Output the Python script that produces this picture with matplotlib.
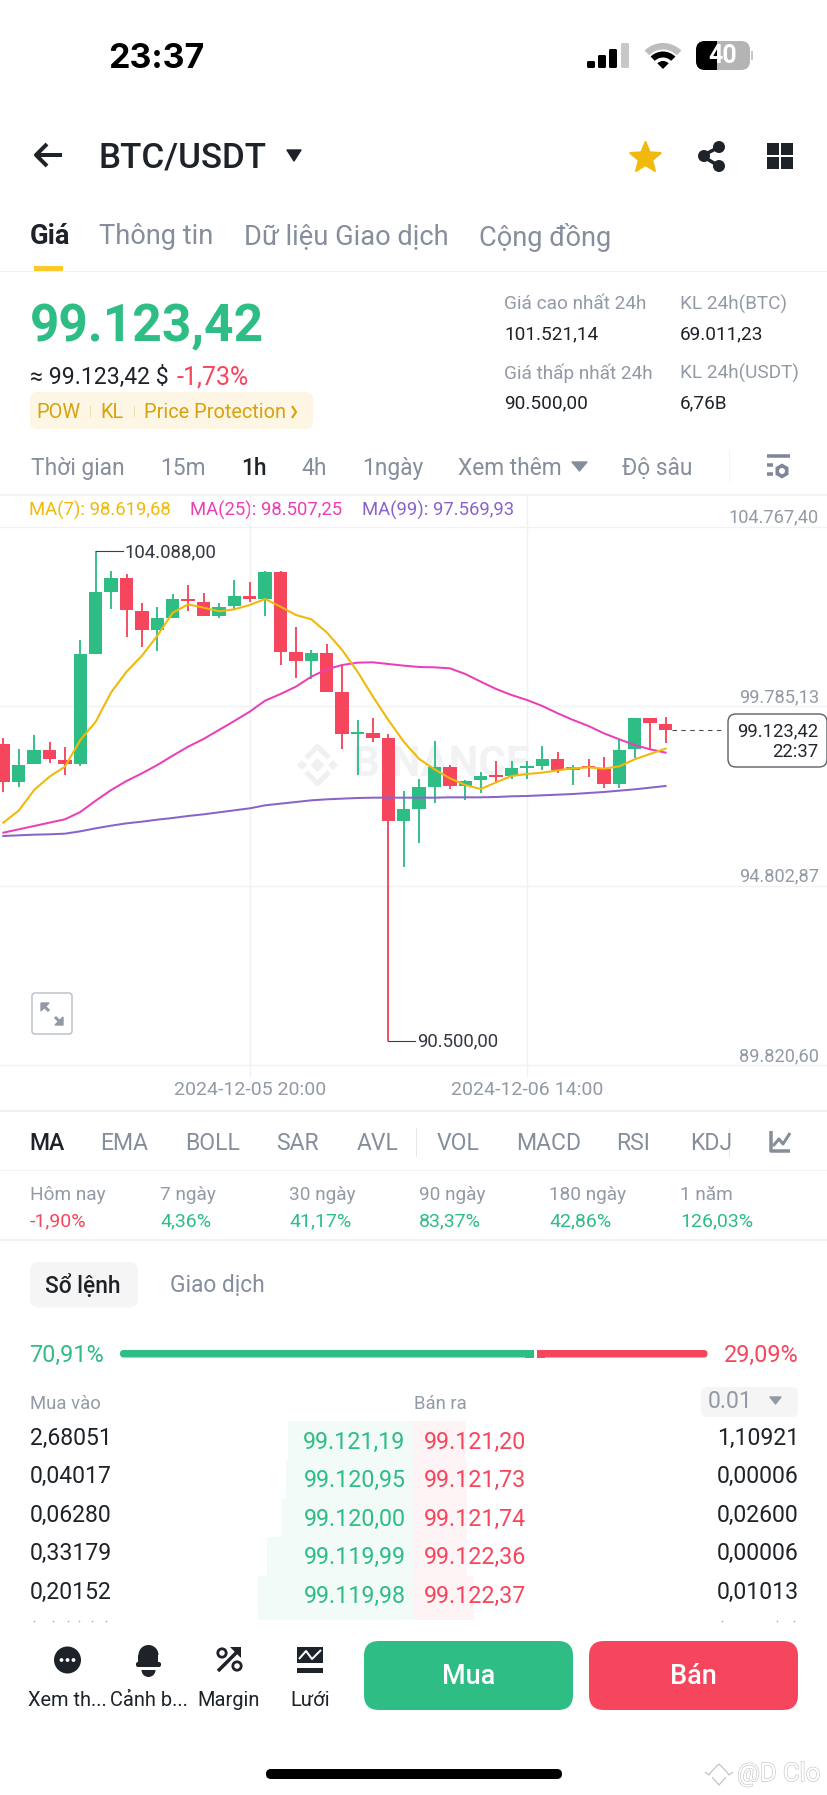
import matplotlib
matplotlib.use("Agg")
import matplotlib.pyplot as plt
import matplotlib.patheffects as pe
from matplotlib.patches import FancyBboxPatch, Rectangle, Wedge, Circle, Polygon, RegularPolygon
import numpy as np

plt.rcParams['font.family'] = ['Roboto', 'Noto Sans', 'DejaVu Sans']

# ---------- chart data ----------
opens = [98735,97690,98180,98569,98282,98180,101243,102964,103334,102436,101909,102233,102751,102686,102279,102566,102834,102760,103501,101280,101039,101271,100169,99022,99050,98893,96589,96940,97551,98106,97579,97727,97865,97856,98078,98134,98319,98004,98115,98041,97634,98587,99466,99281]
highs = [98893,98587,98985,98800,98643,101613,104088,103538,103445,102658,102547,102890,103158,102918,102658,103288,103241,103538,103538,101992,101345,101511,100900,99401,99466,99022,97440,97754,98818,98143,97736,97949,98254,98263,98272,98689,98522,98162,98310,98365,98865,99466,99466,99494]
lows = [97412,97551,98180,98199,97875,98134,101243,102483,101705,101419,101317,102233,102436,102279,102242,102483,102686,102288,100928,100567,100530,100179,98596,97875,98800,90500,95330,95978,97107,97477,97190,97366,97643,97754,97754,98013,97921,97606,97810,97504,97504,98337,98569,98754]
closes = [97690,98152,98569,98310,98180,101243,102955,103334,102455,101909,102224,102751,102695,102279,102547,102834,102751,103501,101298,101039,101271,100179,99022,99068,98902,96589,96922,97532,98097,97579,97708,97856,97810,98060,98134,98319,98004,98097,98069,97634,98569,99466,99318,99123]
ma7 = [96552,96885,97458,97828,98106,98846,99355,100169,100743,101187,101742,102381,102612,102520,102418,102473,102594,102760,102547,102316,102196,101835,101345,100743,100049,99401,98800,98319,98032,97782,97597,97486,97671,97847,97902,97939,98004,98060,98088,98050,98115,98310,98458,98606]
ma25 = [96274,96366,96459,96552,96644,96848,97162,97458,97708,97921,98152,98411,98661,98874,99124,99374,99633,99938,100123,100327,100604,100808,100928,100993,101002,100956,100910,100873,100863,100836,100678,100466,100262,100095,99957,99790,99586,99401,99235,99031,98865,98707,98587,98495]
ma99 = [96181,96200,96218,96228,96246,96311,96394,96468,96533,96579,96635,96681,96737,96783,96838,96894,96949,97033,97079,97125,97171,97199,97218,97236,97245,97245,97245,97245,97245,97255,97255,97255,97264,97283,97292,97310,97329,97347,97375,97403,97440,97477,97523,97570]
price_ticks = [104767.40, 99785.13, 94802.87, 89820.60]
price_tick_labels = ["104.767,40", "99.785,13", "94.802,87", "89.820,60"]
date_tick_idx = [16, 34]
date_tick_labels = ["2024-12-05 20:00", "2024-12-06 14:00"]
ma_labels = ["MA(7): 98.619,68", "MA(25): 98.507,25", "MA(99): 97.569,93"]
high_label = "104.088,00"
low_label = "90.500,00"
current_label = ["99.123,42", "22:37"]

# ---------- page text ----------
tabs = ["Giá", "Thông tin", "Dữ liệu Giao dịch", "Cộng đồng"]
intervals = ["Thời gian", "15m", "1h", "4h", "1ngày", "Xem thêm", "Độ sâu"]
indicators = ["MA", "EMA", "BOLL", "SAR", "AVL", "VOL", "MACD", "RSI", "KDJ"]
period_names = ["Hôm nay", "7 ngày", "30 ngày", "90 ngày", "180 ngày", "1 năm"]
period_values = ["-1,90%", "4,36%", "41,17%", "83,37%", "42,86%", "126,03%"]
buy_qty = ["2,68051", "0,04017", "0,06280", "0,33179", "0,20152"]
buy_price = ["99.121,19", "99.120,95", "99.120,00", "99.119,99", "99.119,98"]
sell_price = ["99.121,20", "99.121,73", "99.121,74", "99.122,36", "99.122,37"]
sell_qty = ["1,10921", "0,00006", "0,02600", "0,00006", "0,01013"]
tool_labels = ["Xem th...", "Cảnh b...", "Margin", "Lưới"]

GREEN = "#2ebd85"; RED = "#f6465d"; DARK = "#1e2329"; GREY = "#858e9c"; LGREY = "#929aa5"
YEL = "#f0b90b"; MAG = "#ea3fb6"; PUR = "#8a63c9"; LINE = "#f0f1f3"

fig = plt.figure(figsize=(8.28, 17.95), dpi=100, facecolor="white")
ov = fig.add_axes([0, 0, 1, 1], zorder=0)
ov.set_xlim(0, 828); ov.set_ylim(1795, 0); ov.axis("off")

def T(x, y, s, px, color=DARK, ha="left", va="center", weight="normal", **kw):
    return ov.text(x, y, s, fontsize=px * 0.72, color=color, ha=ha, va=va, fontweight=weight, **kw)
def RR(x0, y0, x1, y1, r, fc, ec="none", lw=0, z=1):
    p = FancyBboxPatch((x0 + r, y0 + r), x1 - x0 - 2 * r, y1 - y0 - 2 * r,
                       boxstyle=f"round,pad={r},rounding_size={r}", fc=fc, ec=ec, lw=lw, zorder=z)
    ov.add_patch(p); return p
def R(x0, y0, x1, y1, fc, z=1):
    ov.add_patch(Rectangle((x0, y0), x1 - x0, y1 - y0, fc=fc, ec="none", zorder=z))
def L(xs, ys, c=DARK, lw=2, z=2, **kw):
    ov.plot(xs, ys, color=c, lw=lw * 0.72, zorder=z, solid_capstyle=kw.pop("cap", "butt"), **kw)

# ---------- status bar ----------
T(108, 59, "23:37", 34, "#000000", weight="bold", family=["Inter", "Roboto"])
for x0, top, c in [(587, 61, "#000"), (598, 55, "#000"), (609, 49, "#000"), (621, 43, "#c8c8c8")]:
    RR(x0, top, x0 + 8, 68, 1.5, c)
cw = (663, 69)
ov.add_patch(Wedge(cw, 26, 225, 315, width=6.5, fc="#bdbdbd", ec="none"))
ov.add_patch(Wedge(cw, 17.5, 225, 315, width=6, fc="#000", ec="none"))
ov.add_patch(Wedge(cw, 8, 225, 315, fc="#000", ec="none"))
RR(696, 41, 750, 70, 9, "#b4b4b4")
blk = RR(696, 41, 750, 70, 9, "#000", z=2)
blk.set_clip_path(Rectangle((696, 41), 21, 29, transform=ov.transData))
R(751, 51, 753.5, 60, "#c8c8c8")
T(723, 56, "40", 25, "white", ha="center", weight="bold", zorder=3)

# ---------- nav ----------
L([36, 62], [155, 155], DARK, 4)
L([47, 36, 47], [144, 155, 166], DARK, 4)
T(99, 158, "BTC/USDT", 35, DARK, weight="medium")
ov.add_patch(Polygon([(287, 150), (301, 150), (294, 161)], fc=DARK, ec=DARK, lw=1, joinstyle="round"))
ang = np.arange(10) * np.pi / 5 - np.pi / 2
rad = np.where(np.arange(10) % 2 == 0, 16, 7)
ov.add_patch(Polygon(np.c_[645.5 + rad * np.cos(ang), 158 + rad * np.sin(ang)], fc="#f0b90b", ec="#f0b90b", lw=1.5, joinstyle="round"))
for (a, b) in [((702, 156), (719, 147)), ((702, 156), (719, 166))]:
    L([a[0], b[0]], [a[1], b[1]], DARK, 3.5)
for c in [(704, 156), (719, 147), (719, 166)]:
    ov.add_patch(Circle(c, 6, fc=DARK, ec="none", zorder=3))
for x0, y0 in [(767, 143), (781, 143), (767, 157), (781, 157)]:
    R(x0, y0, x0 + 12, y0 + 12, DARK)

# ---------- tabs ----------
for x, s, i in zip([29.5, 99, 244, 479], tabs, range(4)):
    T(x, 237, s, 27.3, DARK if i == 0 else GREY, weight="bold" if i == 0 else "normal")
R(34, 266, 63, 271, "#fcc92b", z=2)
R(0, 270.5, 828, 272, "#eff0f2")

# ---------- price block ----------
T(29.5, 327, "99.123,42", 51.5, GREEN, weight="bold")
T(30, 377, "≈ 99.123,42 $", 23, DARK)
T(176.5, 377, "-1,73%", 25, RED)
RR(30, 392, 313, 429, 7, "#fdf6e4")
tag = "#d8a20c"
T(36, 412, "POW", 20, tag); T(100, 412, "KL", 20, tag); T(144, 412, "Price Protection", 20, tag)
R(90, 406, 91, 417, "#ecdcae"); R(134, 406, 135, 417, "#ecdcae")
L([292, 296, 292], [406, 412, 418], tag, 2.2)
for x, y, s, c in [(504.5, 304, "Giá cao nhất 24h", LGREY), (680, 304, "KL 24h(BTC)", LGREY),
                   (504.5, 334, "101.521,14", DARK), (680, 334, "69.011,23", DARK),
                   (504.5, 373, "Giá thấp nhất 24h", LGREY), (680, 373, "KL 24h(USDT)", LGREY),
                   (504.5, 403, "90.500,00", DARK), (680, 403, "6,76B", DARK)]:
    T(x, y, s, 19, c)

# ---------- interval row ----------
for x, s in zip([31, 160, 241, 301, 362, 458, 622], intervals):
    T(x, 468.5, s, 22.8, DARK if s == "1h" else GREY, weight="medium" if s == "1h" else "normal")
ov.add_patch(Polygon([(572, 462), (587, 462), (579.5, 471)], fc=GREY, ec=GREY, lw=1, joinstyle="round"))
R(729.5, 450, 730.5, 482, "#f3f4f6")
ic = "#7d8798"
L([767, 790], [456, 456], ic, 3.5); L([767, 773], [465, 465], ic, 3.5); L([767, 773], [474, 474], ic, 3.5)
ov.add_patch(RegularPolygon((782, 471), 6, radius=7.5, fc=ic, ec="none", zorder=2))
ov.add_patch(Circle((782, 471), 3, fc="white", ec="none", zorder=3))

# ---------- chart frame, legend, watermark ----------
R(0, 494, 828, 495.5, "#f2f3f5")
for x, s, c in zip([29, 190, 362], ma_labels, [YEL, MAG, PUR]):
    T(x, 510.5, s, 18.5, c)
T(352, 765, "BINANCE", 42, "#f1f2f4", weight="bold")
wm = "#eff0f2"
ov.add_patch(Polygon([(317.5, 758), (324.5, 765), (317.5, 772), (310.5, 765)], fc=wm, ec="none"))
ov.add_patch(Polygon([(302, 760), (307, 765), (302, 770), (297, 765)], fc=wm, ec="none"))
ov.add_patch(Polygon([(333, 760), (338, 765), (333, 770), (328, 765)], fc=wm, ec="none"))
L([306, 317.5, 329], [758, 746.5, 758], wm, 5)
L([306, 317.5, 329], [772, 783.5, 772], wm, 5)

# ---------- candlestick chart (price & index scales) ----------
SP = 15.4
top_px, bot_px = 494, 1077
ax = fig.add_axes([0, 1 - bot_px / 1795, 1, (bot_px - top_px) / 1795], zorder=1)
ax.patch.set_alpha(0)
ax.set_xlim(-3.33 / SP, (828 - 3.33) / SP)
ax.set_ylim(89491, 105675)
for s in ax.spines.values():
    s.set_visible(False)
idx = np.arange(len(opens))
colors = [GREEN if c >= o else RED for o, c in zip(opens, closes)]
ax.vlines(idx, lows, highs, colors=colors, lw=1.35, zorder=3)
ax.bar(idx, [max(abs(c - o), 45) for o, c in zip(opens, closes)],
       bottom=[min(o, c) for o, c in zip(opens, closes)], width=0.865, color=colors, lw=0, zorder=3)
ax.plot(idx, ma99, color=PUR, lw=1.45, zorder=4)
ax.plot(idx, ma25, color=MAG, lw=1.45, zorder=4)
ax.plot(idx, ma7, color=YEL, lw=1.5, zorder=5)
ax.set_yticks(price_ticks, price_tick_labels)
ax.set_xticks(date_tick_idx, date_tick_labels)
ax.grid(True, color=LINE, lw=1.0, zorder=1)
ax.yaxis.tick_right()
ax.tick_params(axis="y", length=0, pad=-6.5, labelsize=18.3 * 0.72, labelcolor=LGREY)
for lab in ax.get_yticklabels():
    lab.set_ha("right"); lab.set_va("bottom")
ax.tick_params(axis="x", length=0, pad=3, labelsize=19.5 * 0.72, labelcolor=LGREY)

i_hi = int(np.argmax(highs)); i_lo = int(np.argmin(lows))
ax.plot([i_hi, i_hi + 1.75], [highs[i_hi]] * 2, color="#3a4048", lw=0.8, zorder=4)
ax.text(i_hi + 1.9, highs[i_hi] - 25, high_label, fontsize=18.7 * 0.72, color="#333a42", va="center", ha="left")
ax.plot([i_lo, i_lo + 1.75], [lows[i_lo]] * 2, color="#3a4048", lw=0.8, zorder=4)
ax.text(i_lo + 1.85, lows[i_lo] - 25, low_label, fontsize=18.7 * 0.72, color="#333a42", va="center", ha="left")
ax.plot([idx[-1] + 0.45, 46.73], [closes[-1]] * 2, color="#4a4f57", lw=0.8, ls=(0, (4, 4)), zorder=4)

RR(728, 714, 827, 767, 8, "white", ec="#5c6168", lw=1.0, z=2)
T(818, 731, current_label[0], 18.5, "#23272e", ha="right", zorder=3)
T(818, 752, current_label[1], 18.5, "#23272e", ha="right", zorder=3)

RR(32, 993, 72, 1034, 3, "white", ec="#b7bdc6", lw=1.0, z=2)
for a, b, c in [((41, 1003), (49, 1003), (41, 1011)), ((63, 1025), (55, 1025), (63, 1017))]:
    ov.add_patch(Polygon([a, b, c], fc=LGREY, ec=LGREY, lw=1, zorder=3))
L([43, 49], [1005, 1011], LGREY, 3, z=3); L([61, 55], [1023, 1017], LGREY, 3, z=3)

# ---------- indicator row ----------
R(0, 1110, 828, 1112, "#eff0f2")
for x, s in zip([29.5, 100, 185, 276, 357, 437, 516, 616, 690], indicators):
    t = T(x, 1143, s, 23, DARK if s == "MA" else GREY, weight="medium" if s == "MA" else "normal")
    if s == "KDJ":
        t.set_clip_path(Rectangle((690, 1125), 39, 40, transform=ov.transData))
R(416, 1128, 417, 1157, "#e6e8ea"); R(729, 1128, 730, 1157, "#e6e8ea")
L([771, 771, 790], [1131, 1151, 1151], GREY, 3.5)
L([773, 779, 783, 790], [1146, 1139, 1144, 1133], GREY, 3)
R(0, 1169.5, 828, 1171, "#f0f1f3")

# ---------- period stats ----------
for x, a, b in zip([30, 160, 289, 419, 549, 680], period_names, period_values):
    T(x, 1194.5, a, 19, LGREY)
    T(x, 1221, b, 19.5, RED if b.startswith("-") else GREEN)
R(0, 1239, 828, 1240.5, "#f0f1f3")

# ---------- order book ----------
RR(30, 1262, 138, 1307.5, 9, "#f5f5f5")
T(45, 1286, "Sổ lệnh", 22.8, DARK, weight="medium")
T(170, 1286, "Giao dịch", 22.8, GREY)
T(29, 1355, "70,91%", 23.5, GREEN)
T(799, 1355, "29,09%", 23.5, RED, ha="right")
RR(120, 1350, 534, 1357.5, 3.7, GREEN); R(525, 1350, 534, 1357.5, GREEN)
RR(537.5, 1350, 707.5, 1357.5, 3.7, RED); R(537.5, 1350, 545, 1357.5, RED)
T(30, 1404, "Mua vào", 18.5, LGREY)
T(414.5, 1404, "Bán ra", 18.5, LGREY)
RR(701, 1387, 798, 1417, 6, "#f5f5f5")
T(708, 1402, "0.01", 23, LGREY)
ov.add_patch(Polygon([(770, 1397), (781, 1397), (775.5, 1404)], fc=LGREY, ec=LGREY, lw=1, joinstyle="round"))

edges = [1421.4, 1460, 1499, 1536.6, 1575.6, 1619.5]
for k, (gx, rx) in enumerate(zip([288, 286, 282, 267, 258], [466, 467, 467.5, 467.5, 474])):
    R(gx, edges[k], 413.4, edges[k + 1], "#f2fbf7", z=0.5)
    R(413.4, edges[k], rx, edges[k + 1], "#fef4f5", z=0.5)
for k in range(5):
    T(30, 1438 + 38.6 * k, buy_qty[k], 23, DARK)
    T(799, 1438 + 38.6 * k, sell_qty[k], 23, DARK, ha="right")
    T(405.5, 1442 + 38.6 * k, buy_price[k], 23.3, GREEN, ha="right")
    T(424, 1442 + 38.6 * k, sell_price[k], 23.3, RED)
# tops of the clipped sixth row
ov.plot([34, 53, 68, 79, 92, 106, 722, 777, 794], [1621] * 9, ls="none", marker="o", ms=1.2, color="#aab0b8", mew=0)

# ---------- bottom tools ----------
for x, s in zip([67.5, 148.5, 229, 310], tool_labels):
    T(x, 1701, s, 20, DARK, ha="center")
ov.add_patch(Circle((67.5, 1660), 13.5, fc=DARK, ec="none"))
for dx in (-6, 0, 6):
    ov.add_patch(Circle((67.5 + dx, 1660), 1.9, fc="white", ec="none", zorder=3))
ov.add_patch(Wedge((148.5, 1655), 10, 180, 360, fc=DARK, ec="none"))
R(138.5, 1655, 158.5, 1664, DARK)
RR(136, 1662, 161, 1667, 2, DARK)
ov.add_patch(Wedge((148.5, 1670), 7, 0, 180, fc=DARK, ec="none"))
L([218, 240], [1671, 1649], DARK, 3.5)
ov.add_patch(Polygon([(230, 1647), (241, 1647), (241, 1658)], fc=DARK, ec="none"))
ov.add_patch(Circle((222, 1653), 4.2, fc="white", ec=DARK, lw=2))
ov.add_patch(Circle((237, 1666), 4.2, fc="white", ec=DARK, lw=2))
ov.add_patch(Polygon([(297, 1647), (323, 1647), (323, 1663), (297, 1663)], fc=DARK, ec="none"))
L([299, 306, 312, 321], [1659, 1651, 1659, 1650], "white", 2, z=3)
R(297, 1668, 323, 1673, DARK)
RR(364, 1641, 573, 1710, 15, GREEN)
RR(589, 1641, 798, 1710, 15, RED)
T(468.5, 1677, "Mua", 27, "white", ha="center", weight="medium")
T(693.5, 1677, "Bán", 27, "white", ha="center", weight="medium")

# ---------- home bar & corner mark ----------
RR(266, 1769, 562, 1779, 5, "#000")
wc = "#c4c6ca"
L([712, 719, 726], [1777, 1785, 1777], wc, 1.3)
L([705, 709, 712, 719, 726, 729, 733], [1772, 1775, 1771, 1764, 1771, 1775, 1772], wc, 1.3)
T(737, 1774, "@D Clo", 25.5, "white", path_effects=[pe.withStroke(linewidth=0.9, foreground="#c4c6ca")], zorder=3)

fig.savefig("out.png", dpi=100, facecolor="white")
